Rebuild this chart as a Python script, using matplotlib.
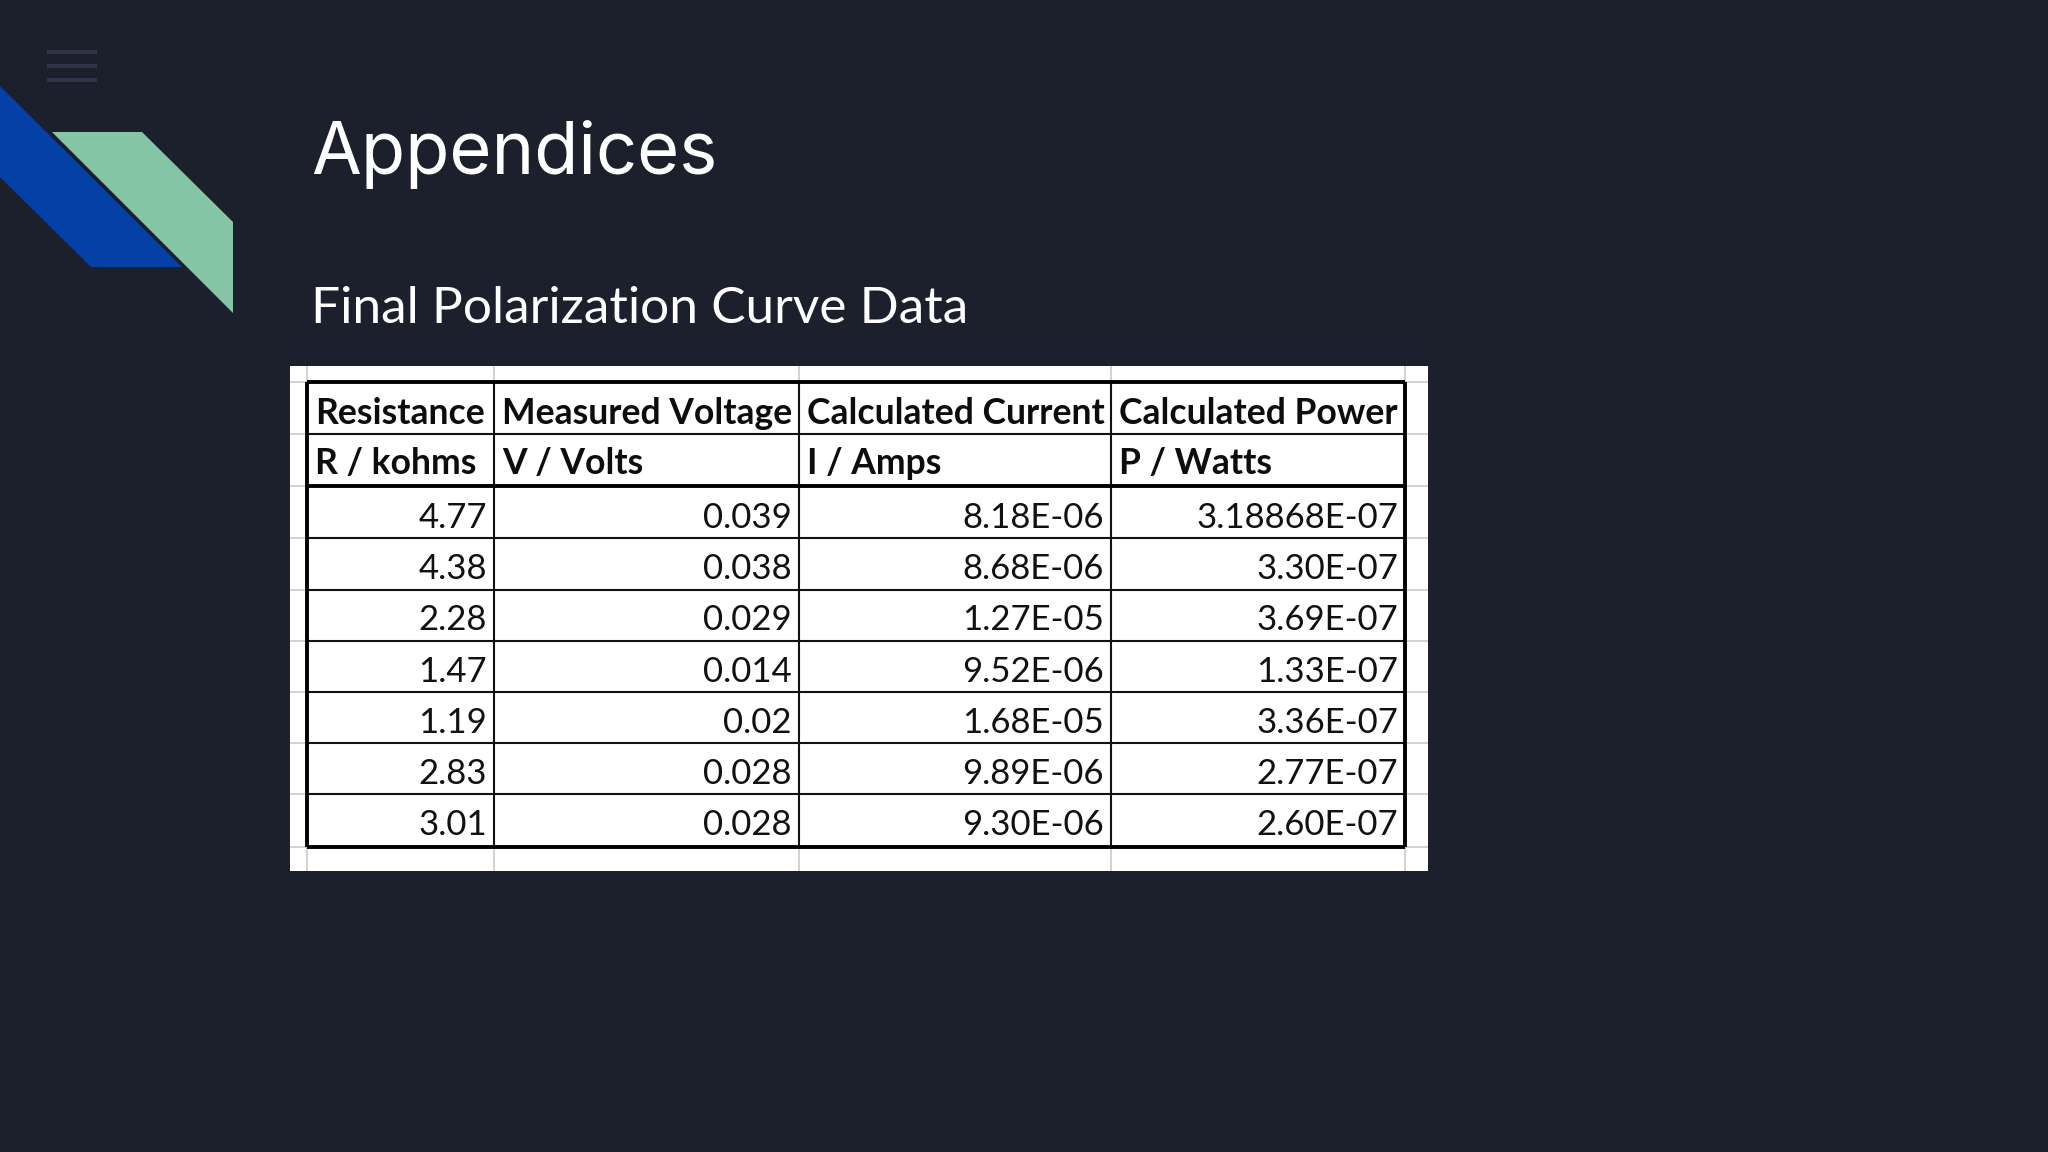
import matplotlib
matplotlib.use("Agg")
import matplotlib.pyplot as plt
from matplotlib.patches import Polygon, Rectangle

BG = "#1c202d"

TITLE = "Appendices"
SUBTITLE = "Final Polarization Curve Data"

header_top = ["Resistance", "Measured Voltage", "Calculated Current", "Calculated Power"]
header_units = ["R / kohms", "V / Volts", "I / Amps", "P / Watts"]

resistance = ["4.77", "4.38", "2.28", "1.47", "1.19", "2.83", "3.01"]
voltage = ["0.039", "0.038", "0.029", "0.014", "0.02", "0.028", "0.028"]
current = ["8.18E-06", "8.68E-06", "1.27E-05", "9.52E-06", "1.68E-05", "9.89E-06", "9.30E-06"]
power = ["3.18868E-07", "3.30E-07", "3.69E-07", "1.33E-07", "3.36E-07", "2.77E-07", "2.60E-07"]

# table geometry, in pixels of the 2048x1152 slide
col_x = [307, 494, 799, 1111, 1405]
row_y = [382, 434, 486, 538, 590, 641, 692, 743, 794, 847]
sheet_x0, sheet_x1 = 290, 1428
sheet_y0, sheet_y1 = 366, 871


def main():
    plt.rcParams["font.family"] = ["Lato", "DejaVu Sans"]
    fig = plt.figure(figsize=(20.48, 11.52), dpi=100, facecolor=BG)
    ax = fig.add_axes([0, 0, 1, 1])
    ax.set_xlim(0, 2048)
    ax.set_ylim(1152, 0)
    ax.axis("off")

    # slide decoration
    ax.add_patch(Polygon([(0, 86), (182, 267), (91, 267), (0, 177)], fc="#0440a6", ec="none"))
    ax.add_patch(Polygon([(52, 132), (142, 132), (233, 222), (233, 313)], fc="#85c5a5", ec="none"))
    for y in [52, 66, 80]:
        ax.add_patch(Rectangle((47, y - 2.2), 50, 4.4, fc="#2f3547", ec="none"))

    ax.text(311, 174, TITLE, color="white", fontsize=52, family=["Inter", "DejaVu Sans"],
            va="baseline", ha="left")
    ax.text(311, 323, SUBTITLE, color="white", fontsize=37, va="baseline", ha="left")

    # spreadsheet screenshot
    ax.add_patch(Rectangle((sheet_x0, sheet_y0), sheet_x1 - sheet_x0, sheet_y1 - sheet_y0,
                           fc="white", ec="none"))
    ax.vlines(col_x, sheet_y0, sheet_y1, color="#d2d2d2", lw=1.4)
    ax.hlines(row_y, sheet_x0, sheet_x1, color="#d2d2d2", lw=1.4)

    ax.hlines(row_y[1:-1], col_x[0], col_x[-1], color="#111111", lw=1.5)
    ax.vlines(col_x[1:-1], row_y[0], row_y[-1], color="#111111", lw=1.5)
    ax.hlines([row_y[0], row_y[2], row_y[-1]], col_x[0], col_x[-1], color="black", lw=2.8)
    ax.vlines([col_x[0], col_x[-1]], row_y[0], row_y[-1], color="black", lw=2.8)

    for j in range(4):
        ax.text(col_x[j] + 8, 423.5, header_top[j], fontsize=25.6, fontweight="bold",
                color="#0d0d0d", va="baseline", ha="left")
        ax.text(col_x[j] + 8, 474.5, header_units[j], fontsize=25.6, fontweight="bold",
                color="#0d0d0d", va="baseline", ha="left")

    columns = [resistance, voltage, current, power]
    for j, col in enumerate(columns):
        for i, val in enumerate(col):
            ax.text(col_x[j + 1] - 7, 528 + 51.2 * i, val, fontsize=25, color="#111111",
                    va="baseline", ha="right")

    fig.savefig("out.png", dpi=100, facecolor=BG)
    plt.close(fig)


if __name__ == "__main__":
    main()
